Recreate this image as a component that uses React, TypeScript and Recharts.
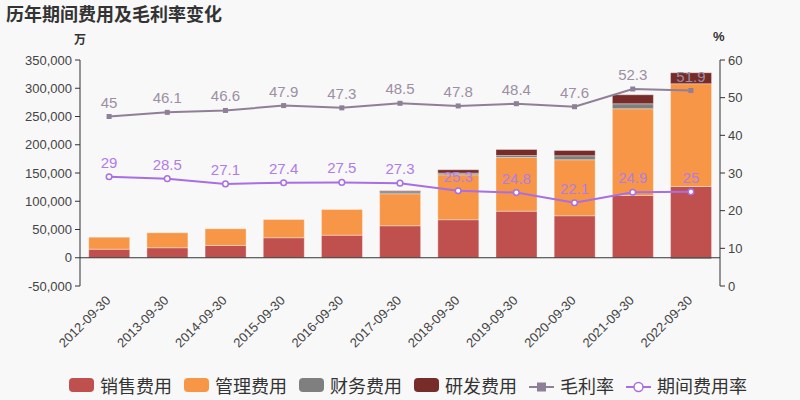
import React from "react";
import {
  ComposedChart,
  Bar,
  Line,
  XAxis,
  YAxis,
  ReferenceLine,
  LabelList,
} from "recharts";

// reporting dates (Q3 each year)
const periods = [
  "2012-09-30",
  "2013-09-30",
  "2014-09-30",
  "2015-09-30",
  "2016-09-30",
  "2017-09-30",
  "2018-09-30",
  "2019-09-30",
  "2020-09-30",
  "2021-09-30",
  "2022-09-30",
];

// expenses, in 万
const salesExpense = [15200, 17700, 21800, 35400, 40000, 56600, 67300, 82500, 74300, 110300, 126200];
const adminExpense = [21300, 26500, 29500, 32400, 45500, 56700, 79600, 95000, 99100, 153400, 181800];
const financeExpense = [0, 0, 0, 0, 0, 3500, 3000, 3500, 7100, 8800, -2000];
const rdExpense = [0, 0, 0, 0, 0, 2000, 5800, 10600, 9400, 15900, 19500];

// ratios, in %
const grossMargin = [45, 46.1, 46.6, 47.9, 47.3, 48.5, 47.8, 48.4, 47.6, 52.3, 51.9];
const expenseRatio = [29, 28.5, 27.1, 27.4, 27.5, 27.3, 25.3, 24.8, 22.1, 24.9, 25];

const amountTicks = [-50000, 0, 50000, 100000, 150000, 200000, 250000, 300000, 350000];
const ratioTicks = [0, 10, 20, 30, 40, 50, 60];

const barSeries = [
  { key: "sales", name: "销售费用", color: "#c0504d" },
  { key: "admin", name: "管理费用", color: "#f79646" },
  { key: "finance", name: "财务费用", color: "#7f7f7f" },
  { key: "rd", name: "研发费用", color: "#772c2a" },
];

const lineSeries = [
  { key: "margin", name: "毛利率", color: "#8f7f97", label: "#9c8fa4", marker: "square" },
  { key: "ratio", name: "期间费用率", color: "#a86ee6", label: "#b07de8", marker: "circle" },
];

const data = periods.map((date, i) => ({
  date,
  sales: salesExpense[i],
  admin: adminExpense[i],
  finance: financeExpense[i],
  rd: rdExpense[i],
  margin: grossMargin[i],
  ratio: expenseRatio[i],
}));

const FONT = '"Liberation Sans", Arial, "Noto Sans CJK SC", sans-serif';
const AXIS_TEXT = "#444";

const DateTick = (props: any) => {
  const { x, y, payload } = props;
  const ax = x - 1;
  const ay = y;
  return (
    <text
      x={ax}
      y={ay}
      transform={`rotate(-45 ${ax} ${ay})`}
      textAnchor="end"
      dominantBaseline="central"
      fontSize={13}
      fill={AXIS_TEXT}
      fontFamily={FONT}
    >
      {payload.value}
    </text>
  );
};

const fmt = (v: number) => v.toLocaleString("en-US");

function LegendMarker({ s }: { s: (typeof lineSeries)[number] }) {
  return (
    <svg width={25} height={14}>
      <line x1={0} y1={7} x2={25} y2={7} stroke={s.color} strokeWidth={2} />
      {s.marker === "square" ? (
        <rect x={8} y={2.5} width={9} height={9} fill={s.color} />
      ) : (
        <circle cx={12.5} cy={7} r={4.5} fill="#fff" stroke={s.color} strokeWidth={1.5} />
      )}
    </svg>
  );
}

export default function App() {
  return (
    <div
      style={{
        position: "relative",
        width: 800,
        height: 400,
        background: "#f8f8f8",
        fontFamily: FONT,
      }}
    >
      <style>{"body{margin:0}"}</style>
      <div
        style={{
          position: "absolute",
          left: 6,
          top: 4,
          fontSize: 18,
          fontWeight: "bold",
          color: "#333",
          lineHeight: "22px",
        }}
      >
        历年期间费用及毛利率变化
      </div>
      <div style={{ position: "absolute", left: 74, top: 30, fontSize: 12, fontWeight: "bold", color: "#333" }}>万</div>
      <div style={{ position: "absolute", left: 713, top: 29, fontSize: 13, fontWeight: "bold", color: "#333" }}>%</div>

      <ComposedChart
        width={800}
        height={400}
        data={data}
        stackOffset="sign"
        barCategoryGap="15%"
        margin={{ top: 60, right: 10, bottom: 34, left: 10 }}
        style={{ fontFamily: FONT }}
      >
        <XAxis
          dataKey="date"
          height={80}
          axisLine={false}
          tickLine={false}
          tickMargin={6}
          interval={0}
          tick={<DateTick />}
        />
        <YAxis
          yAxisId="amt"
          width={70}
          domain={[-50000, 350000]}
          ticks={amountTicks}
          tickFormatter={fmt}
          tickSize={5}
          tickMargin={3}
          tick={{ fill: AXIS_TEXT, fontSize: 13 }}
          axisLine={{ stroke: "#333" }}
          tickLine={{ stroke: "#333" }}
        />
        <YAxis
          yAxisId="pct"
          orientation="right"
          width={70}
          domain={[0, 60]}
          ticks={ratioTicks}
          tickSize={5}
          tickMargin={3}
          tick={{ fill: AXIS_TEXT, fontSize: 13 }}
          axisLine={{ stroke: "#333" }}
          tickLine={{ stroke: "#333" }}
        />
        <ReferenceLine yAxisId="amt" y={0} stroke="#333" />
        {barSeries.map((s) => (
          <Bar
            key={s.key}
            yAxisId="amt"
            dataKey={s.key}
            name={s.name}
            stackId="exp"
            fill={s.color}
            stroke="#ffffff"
            strokeOpacity={0.35}
            isAnimationActive={false}
          />
        ))}
        {lineSeries.map((s) => (
          <Line
            key={s.key}
            yAxisId="pct"
            dataKey={s.key}
            name={s.name}
            stroke={s.color}
            strokeWidth={2}
            isAnimationActive={false}
            dot={(p: any) =>
              s.marker === "square" ? (
                <rect key={p.index} x={p.cx - 2.5} y={p.cy - 2.5} width={5} height={5} fill={s.color} />
              ) : (
                <circle key={p.index} cx={p.cx} cy={p.cy} r={2.8} fill="#fff" stroke={s.color} strokeWidth={1.5} />
              )
            }
            activeDot={false}
          >
            <LabelList dataKey={s.key} position="top" offset={9} fill={s.label} fontSize={15} />
          </Line>
        ))}
      </ComposedChart>

      <div
        style={{
          position: "absolute",
          left: 8,
          width: 800,
          top: 372,
          display: "flex",
          justifyContent: "center",
          alignItems: "center",
          fontSize: 18,
          color: "#333",
        }}
      >
        {barSeries.map((s) => (
          <div key={s.key} style={{ display: "flex", alignItems: "center", marginRight: 12 }}>
            <div style={{ width: 25, height: 14, borderRadius: 4, background: s.color, marginRight: 6 }} />
            <span>{s.name}</span>
          </div>
        ))}
        {lineSeries.map((s, i) => (
          <div
            key={s.key}
            style={{ display: "flex", alignItems: "center", marginRight: i === lineSeries.length - 1 ? 0 : 12 }}
          >
            <div style={{ marginRight: 6, height: 14 }}>
              <LegendMarker s={s} />
            </div>
            <span>{s.name}</span>
          </div>
        ))}
      </div>
    </div>
  );
}
